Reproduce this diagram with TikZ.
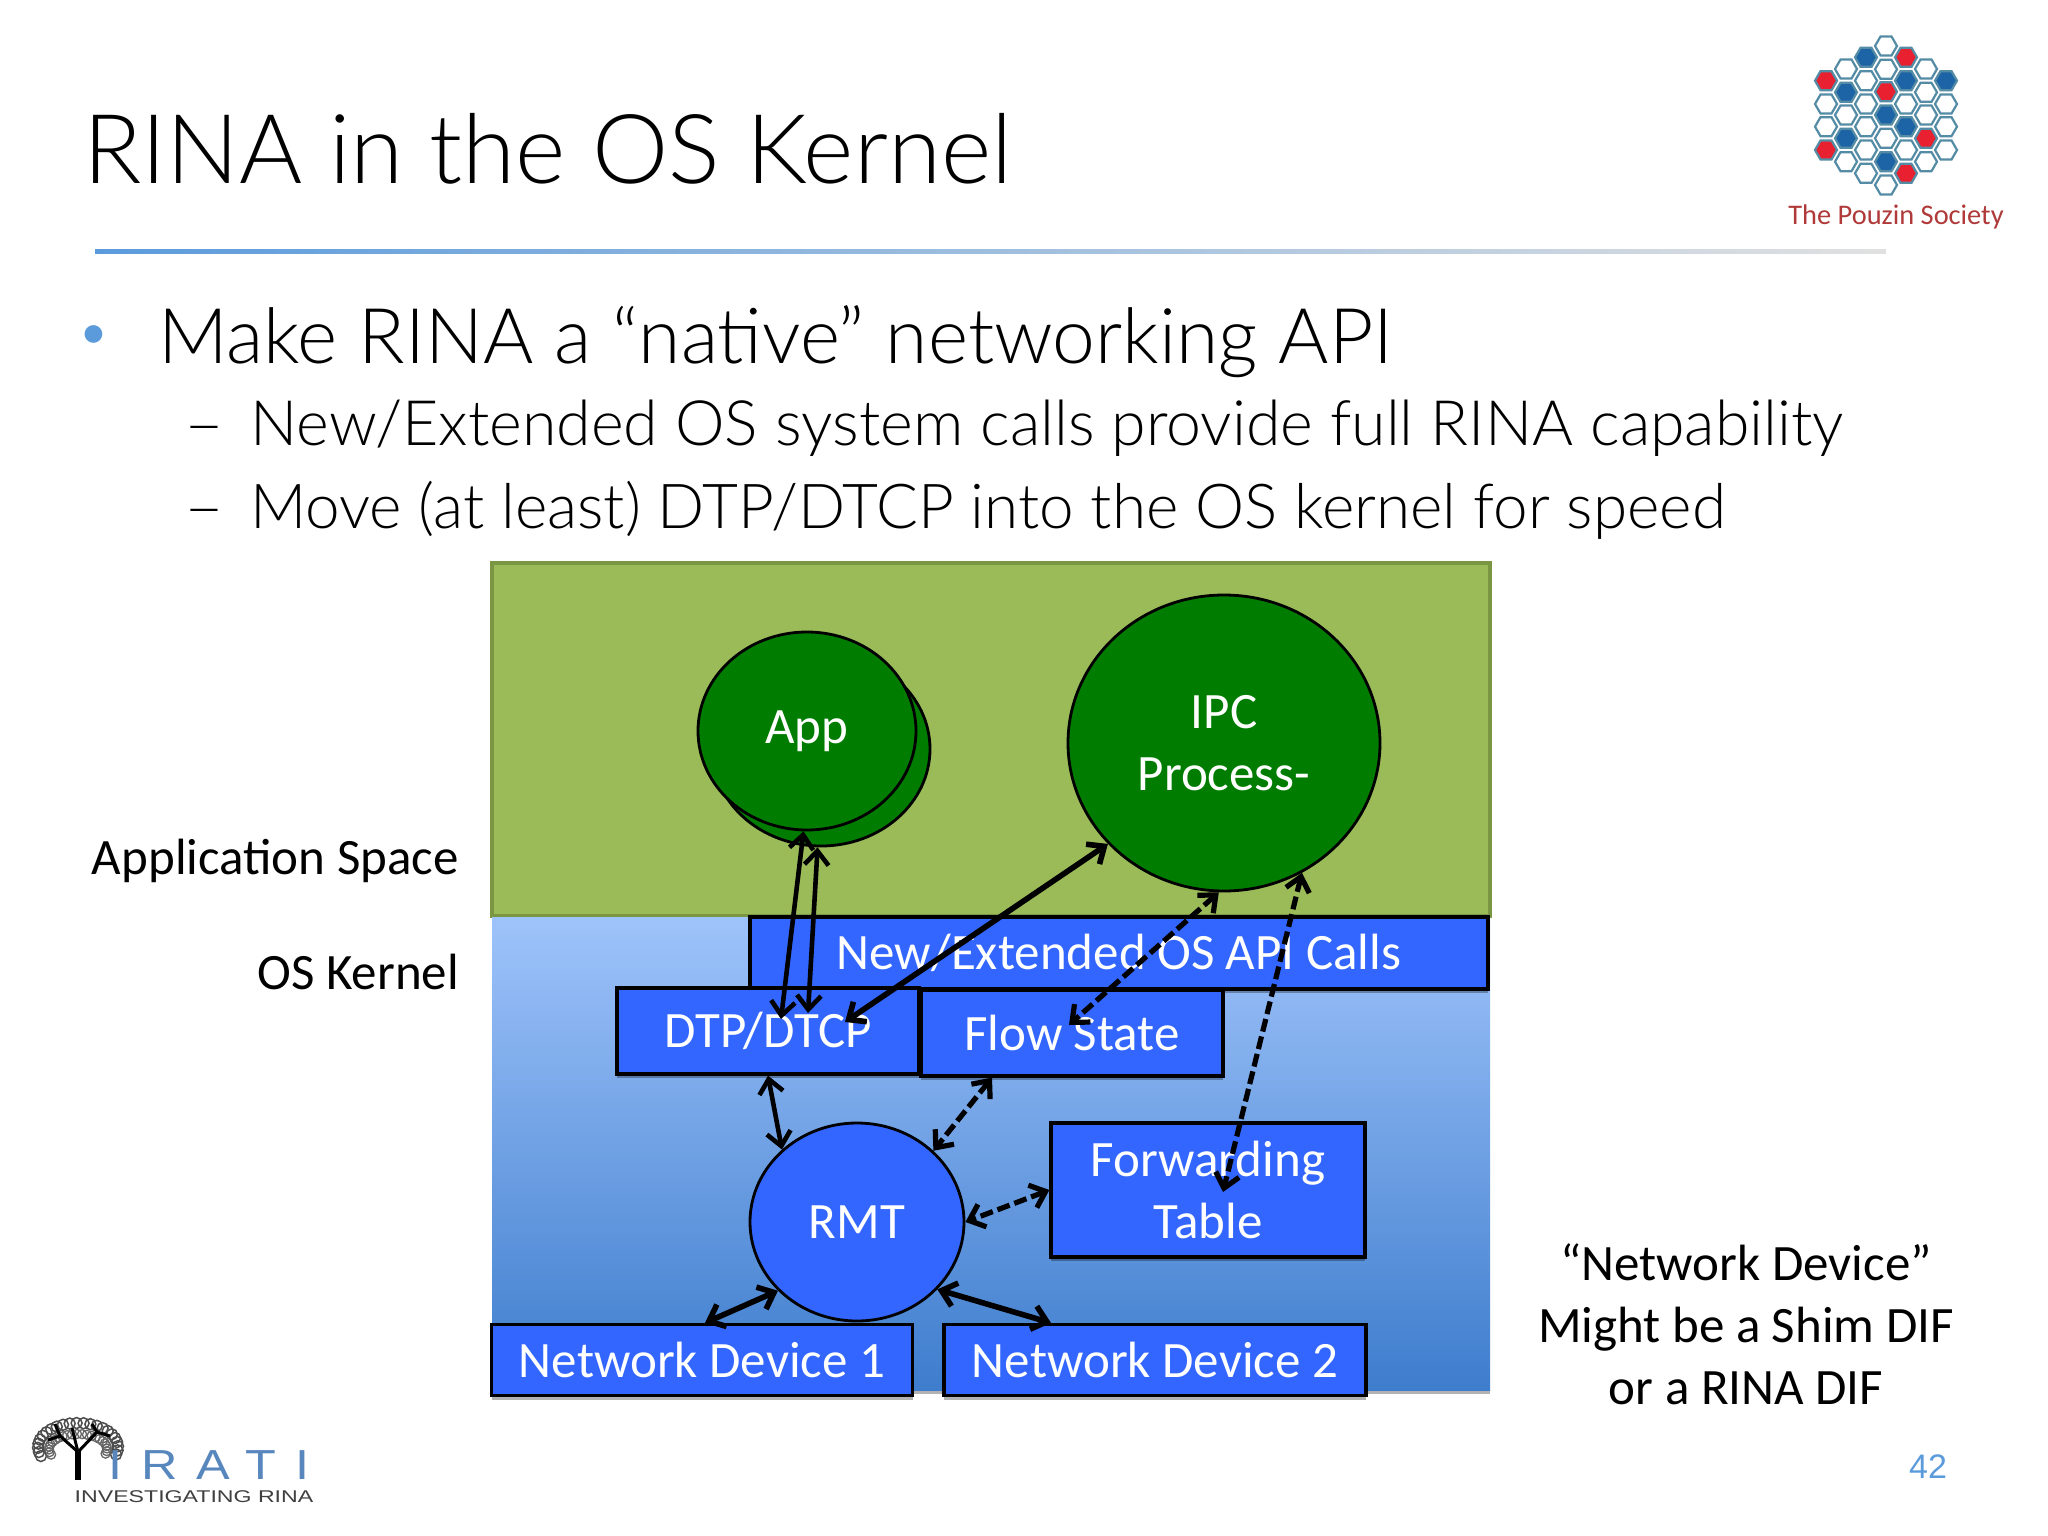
\documentclass[tikz,border=0pt]{standalone}
\usepackage{fontspec}
\usepackage{graphicx}
\setmainfont{Carlito}
\newfontfamily\slidefont{Lato Light}
\newfontfamily\logofont{Liberation Sans}
\usetikzlibrary{arrows.meta,calc,shadows,shapes.geometric}
\definecolor{spacegreen}{RGB}{155,187,89}
\definecolor{spaceedge}{RGB}{122,150,66}
\definecolor{kerneltop}{RGB}{158,195,250}
\definecolor{kernelbottom}{RGB}{62,125,205}
\definecolor{boxblue}{RGB}{51,102,255}
\definecolor{circlegreen}{RGB}{0,125,0}
\definecolor{bulletblue}{RGB}{91,155,220}
\definecolor{pouzinred}{RGB}{176,58,58}
\definecolor{hexblue}{RGB}{28,100,165}
\definecolor{hexred}{RGB}{232,32,48}
\definecolor{hexedge}{RGB}{85,140,165}
\definecolor{iratiblue}{RGB}{88,135,190}
\tikzset{
  softshadow/.style={drop shadow={shadow xshift=0pt,shadow yshift=-4pt,opacity=0.3,fill=black}},
  boxnode/.style={draw=black,line width=3.2pt,fill=boxblue,text=white,align=center,inner sep=0pt,softshadow,font=\fontsize{51}{62}\selectfont},
  roundnode/.style={ellipse,draw=black,line width=2.8pt,text=white,align=center,inner sep=0pt,font=\fontsize{51}{62}\selectfont},
  sidelabel/.style={align=center,text=black,inner sep=0pt,font=\fontsize{51}{62}\selectfont},
  linkarrow/.style={{Straight Barb[length=14pt,width=24pt]}-{Straight Barb[length=14pt,width=24pt]},line width=4.6pt,black},
  thicklink/.style={linkarrow,line width=5.6pt},
  dashlink/.style={linkarrow,line width=5.2pt,dash pattern=on 13pt off 5pt},
  titletext/.style={anchor=base west,inner sep=0pt,text=black,font=\slidefont\fontsize{96.4}{110}\selectfont},
  maintext/.style={anchor=base west,inner sep=0pt,text=black,font=\slidefont\fontsize{76.8}{90}\selectfont},
  subtext/.style={anchor=base west,inner sep=0pt,text=black,font=\slidefont\fontsize{62.6}{74}\selectfont},
  hexcell/.style={line width=2.2pt,draw=hexedge}
}
\begin{document}
\begin{tikzpicture}[x=1pt,y=-1pt]
\useasboundingbox (0,0) rectangle (2048,1536);
\fill [white] (0,0) rectangle (2048,1536);
% slide text
\node (title) at (83,183) [titletext] {RINA in the OS Kernel};
\shade [left color=bulletblue, right color=black!12] (95,249) rectangle (1886,253);
\node (bullet) at (94,337) [text=bulletblue, font=\fontsize{50}{60}\selectfont, inner sep=0pt] {•};
\node (main) at (158,363) [maintext] {Make RINA a “native” networking API};
\node (dashone) at (184,445) [subtext] {\scalebox{1.1}[1]{–}};
\node (subone) at (250,445) [subtext] {New/Extended OS system calls provide full RINA capability};
\node (dashtwo) at (184,528) [subtext] {\scalebox{1.1}[1]{–}};
\node (subtwo) at (250,528) [subtext, font=\slidefont\fontsize{62}{74}\selectfont] {Move (at least) DTP/DTCP into the OS kernel for speed};
% spaces
\draw [draw=spaceedge, line width=4pt, fill=spacegreen] (492,563) rectangle (1490,916);
\path [top color=kerneltop, bottom color=kernelbottom, softshadow] (492,917) rectangle (1490,1390);
\node (applabel) at (459,861) [sidelabel, anchor=east] {Application Space};
\node (oslabel) at (459,972) [sidelabel, anchor=east] {OS Kernel};
% boxes
\node (api) at (1119,953) [boxnode, minimum width=738pt, minimum height=72pt] {New/Extended OS API Calls};
\node (dtp) at (768,1031) [boxnode, minimum width=302pt, minimum height=86pt] {DTP/DTCP};
\node (flow) at (1072,1033) [boxnode, minimum width=302pt, minimum height=86pt] {Flow State};
\node (forward) at (1208,1190) [boxnode, minimum width=314pt, minimum height=134pt] {Forwarding\\Table};
\node (rmt) at (857,1222) [roundnode, fill=boxblue, minimum width=214pt, minimum height=198pt] {RMT};
\node (devone) at (702,1360) [boxnode, minimum width=421pt, minimum height=71pt] {Network Device 1};
\node (devtwo) at (1155,1360) [boxnode, minimum width=422pt, minimum height=71pt] {Network Device 2};
% circles
\node (appback) at (821,749) [roundnode, fill=circlegreen, minimum width=218pt, minimum height=194pt] {};
\node (app) at (807,731) [roundnode, fill=circlegreen, minimum width=218pt, minimum height=198pt] {\raisebox{-5pt}{App}};
\node (ipc) at (1224,743) [roundnode, fill=circlegreen, minimum width=312pt, minimum height=296pt] {IPC\\Process-};
% connectors
\draw [linkarrow] (app.-92) -- ($(dtp)+(13,-12)$);
\draw [linkarrow] (appback.-92) -- ($(dtp)+(40,-18)$);
\draw [thicklink] (ipc.221) -- ($(dtp)+(77,-9)$);
\draw [dashlink] (ipc.268) -- ($(flow)+(-3,-8)$);
\draw [dashlink] (ipc.301) -- ($(forward)+(15,2)$);
\draw [linkarrow] (dtp.south) -- (rmt.136);
\draw [dashlink] ($(flow.south)+(-80,0)$) -- (rmt.43);
\draw [dashlink] (forward.west) -- (rmt.0);
\draw [thicklink] (rmt.221) -- ($(devone.north)+(3,0)$);
\draw [thicklink] (rmt.-40) -- ($(devtwo.north)+(-104,0)$);
% right note and page number
\node (devnote) at (1746,1324) [sidelabel] {“Network Device”\\Might be a Shim DIF\\or a RINA DIF};
\node (pagenum) at (1928,1467) [text=bulletblue, font=\logofont\fontsize{34}{40}\selectfont] {42};
% pouzin logo
\foreach \hx/\hy/\hc in {228/242/hexred,228/312/white,228/380/white,228/450/hexred,
  288/207/white,288/277/hexblue,288/345/white,288/415/hexblue,288/485/white,
  348/172/hexblue,348/242/white,348/312/white,348/380/white,348/450/white,348/520/white,
  408/138/white,408/208/white,408/275/hexred,408/345/hexblue,408/415/white,408/485/hexblue,408/555/white,
  468/172/hexred,468/242/hexblue,468/312/white,468/380/hexblue,468/450/white,468/520/hexred,
  528/207/white,528/277/white,528/345/white,528/415/hexred,528/485/white,
  588/242/hexblue,588/312/white,588/380/white,588/450/white} {
  \draw [hexcell, fill=\hc] ({1750+\hx/3+11},{\hy/3}) -- ({1750+\hx/3+5.5},{\hy/3-9.5}) -- ({1750+\hx/3-5.5},{\hy/3-9.5}) -- ({1750+\hx/3-11},{\hy/3}) -- ({1750+\hx/3-5.5},{\hy/3+9.5}) -- ({1750+\hx/3+5.5},{\hy/3+9.5}) -- cycle;
}
\node (pouzin) at (1896,217) [text=pouzinred, font=\fontsize{28.4}{34}\selectfont] {The Pouzin Society};
% irati logo
\foreach \ca in {0,10,...,220} {
  \draw [black!70, line width=1.5pt] ({78+40*cos(\ca-18)},{1447-24*sin(\ca-18)}) circle (5.5pt);
  \draw [black!60, line width=1.3pt] ({78+29*cos(\ca-18)},{1449-15*sin(\ca-18)}) circle (4.5pt);
}
\draw [black, line width=6pt] (78,1480) -- (78,1450);
\draw [black, line width=3pt] (78,1452) -- (60,1436) -- (48,1440);
\draw [black, line width=3pt] (60,1436) -- (55,1424);
\draw [black, line width=3pt] (78,1452) -- (72,1428);
\draw [black, line width=3pt] (78,1452) -- (97,1432) -- (110,1436);
\draw [black, line width=3pt] (97,1432) -- (92,1424);
\node (irati) at (209,1465) [text=iratiblue, font=\logofont\fontsize{42}{46}\selectfont] {\addfontfeature{LetterSpace=38}\scalebox{1.2}[1]{IRATI}};
\node (investigating) at (194,1497) [text=black!75, font=\logofont\fontsize{17}{20}\selectfont] {\scalebox{1.36}[1]{INVESTIGATING RINA}};
\end{tikzpicture}
\end{document}
